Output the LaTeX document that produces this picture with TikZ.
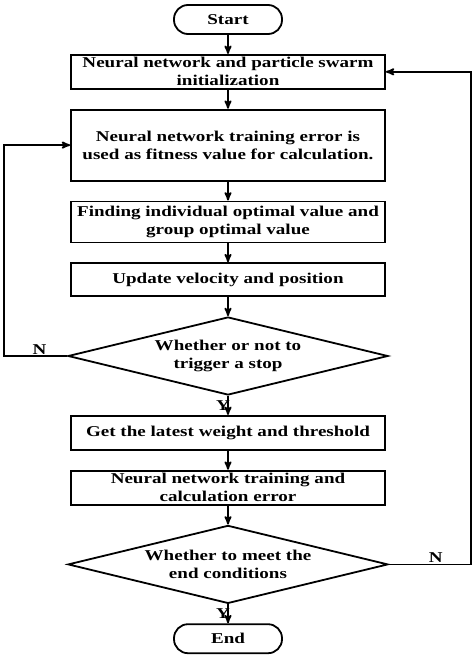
\documentclass[tikz,border=0pt]{standalone}
\usepackage{fontspec}
\setmainfont{Liberation Serif}[FakeStretch=1.27]
\usepackage{tikz}
\usetikzlibrary{arrows,shapes.geometric,positioning}

\begin{document}
\begin{tikzpicture}[->,>=stealth',line width=1.8pt,node distance=19pt,
        font=\fontsize{15pt}{18pt}\selectfont\bfseries,
        terminal/.style={draw,rectangle,rounded corners=14pt,minimum width=108pt,minimum height=29pt,inner sep=1pt},
        process/.style={draw,rectangle,align=center,minimum width=314pt,inner sep=1pt},
        decision/.style={draw,diamond,aspect=4,align=center,minimum width=320pt,minimum height=78pt,inner sep=0pt}]
                \useasboundingbox (0,0) rectangle (474pt,-656pt);
                \node   [terminal]                                  (1) at (228pt,-19.5pt) {Start};
                \node   [process,minimum height=34pt]   [below=of 1]    (2) {Neural network and particle swarm\\initialization};
                \node   [process,minimum height=71pt]   [below=of 2]    (3) {Neural network training error is\\used as fitness value for calculation.};
                \node   [process,minimum height=41pt]   [below=of 3]    (4) {Finding individual optimal value and\\group optimal value};
                \node   [process,minimum height=33pt]   [below=of 4]    (5) {Update velocity and position};
                \node   [decision]                      [below=of 5]    (6) {Whether or not to\\trigger a stop};
                \node   [process,minimum height=34pt]   [below=of 6]    (7) {Get the latest weight and threshold};
                \node   [process,minimum height=34pt]   [below=of 7]    (8) {Neural network training and\\calculation error};
                \node   [decision]                      [below=of 8]    (9) {Whether to meet the\\end conditions};
                \node   [terminal]                      [below=of 9]    (10) {End};

                \path   (1) edge (2)
                (2) edge (3)
                (3) edge (4)
                (4) edge (5)
                (5) edge (6)
                (6) edge node [midway,xshift=-5pt,inner sep=0pt] {Y} (7)
                (7) edge (8)
                (8) edge (9)
                (9) edge node [midway,xshift=-5pt,inner sep=0pt] {Y} (10);

                \draw   (6.west) -- node [above,pos=0.44,inner sep=1pt] {N} ++(-63pt,0) |- (3.west);
                \draw   (9.east) -- node [above,pos=0.57,inner sep=1pt] {N} ++(82pt,0) |- (2.east);
            \end{tikzpicture}
\end{document}
